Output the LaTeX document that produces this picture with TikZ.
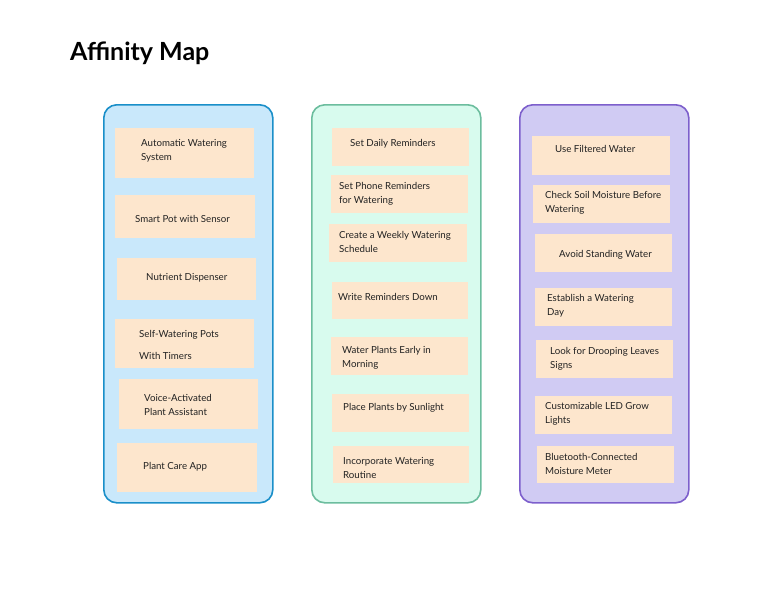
\documentclass[tikz,border=0pt]{standalone}
\usepackage{fontspec}
\setmainfont{Lato}
\definecolor{sticky}{HTML}{FDE6CD}
\definecolor{txt}{HTML}{222222}
\definecolor{bluefill}{HTML}{C9E8FB}
\definecolor{blueline}{HTML}{1A8FC9}
\definecolor{greenfill}{HTML}{D8FBEE}
\definecolor{greenline}{HTML}{6CBD9E}
\definecolor{purplefill}{HTML}{D0CBF3}
\definecolor{purpleline}{HTML}{7D5FCC}
\begin{document}
\begin{tikzpicture}[x=1pt,y=-1pt,
  col/.style={line width=1.6pt, rounded corners=13pt, anchor=north west, inner sep=0pt, minimum width=169pt, minimum height=398pt},
  note/.style={fill=sticky, draw=none, anchor=north west, inner sep=0pt},
  lbl/.style={anchor=west, inner sep=0pt, align=left, font=\fontsize{9.7}{14}\selectfont, text=txt, yshift=-1pt}]
\useasboundingbox (0,0) rectangle (768,594);
\node[anchor=west, inner sep=0pt, font=\fontsize{25}{30}\selectfont\bfseries, text=black] (title) at (70,53) {Affinity Map};

\node[col, draw=blueline, fill=bluefill] (col1) at (103,104) {};
\node[col, draw=greenline, fill=greenfill] (col2) at (311,104) {};
\node[col, draw=purpleline, fill=purplefill] (col3) at (519,104) {};

% column 1
\node[note, minimum width=139pt, minimum height=50pt] (a1) at (115,128) {};
\node[lbl] (ta1) at (141,150) {Automatic Watering\\System};
\node[note, minimum width=140pt, minimum height=43pt] (a2) at (115,195) {};
\node[lbl] (ta2) at (135,218) {Smart Pot with Sensor};
\node[note, minimum width=139pt, minimum height=42pt] (a3) at (117,258) {};
\node[lbl] (ta3) at (146,277) {Nutrient Dispenser};
\node[note, minimum width=139pt, minimum height=49pt] (a4) at (115,319) {};
\node[lbl] (ta4) at (139,344) {Self-Watering Pots\\[8pt]With Timers};
\node[note, minimum width=139pt, minimum height=50pt] (a5) at (119,379) {};
\node[lbl] (ta5) at (144,404) {Voice-Activated\\Plant Assistant};
\node[note, minimum width=140pt, minimum height=49pt] (a6) at (117,443) {};
\node[lbl] (ta6) at (143,466) {Plant Care App};

% column 2
\node[note, minimum width=137pt, minimum height=38pt] (b1) at (332,128) {};
\node[lbl] (tb1) at (350,143) {Set Daily Reminders};
\node[note, minimum width=137pt, minimum height=38pt] (b2) at (331,175) {};
\node[lbl] (tb2) at (339,193) {Set Phone Reminders\\for Watering};
\node[note, minimum width=138pt, minimum height=38pt] (b3) at (329,224) {};
\node[lbl] (tb3) at (339,241) {Create a Weekly Watering\\Schedule};
\node[note, minimum width=136pt, minimum height=37pt] (b4) at (332,282) {};
\node[lbl] (tb4) at (338,296) {Write Reminders Down};
\node[note, minimum width=137pt, minimum height=38pt] (b5) at (331,337) {};
\node[lbl] (tb5) at (342,357) {Water Plants Early in\\Morning};
\node[note, minimum width=137pt, minimum height=38pt] (b6) at (332,394) {};
\node[lbl] (tb6) at (343,407) {Place Plants by Sunlight};
\node[note, minimum width=136pt, minimum height=37pt] (b7) at (333,446) {};
\node[lbl] (tb7) at (343,467) {Incorporate Watering\\Routine};

% column 3
\node[note, minimum width=138pt, minimum height=39pt] (c1) at (532,136) {};
\node[lbl] (tc1) at (555,148) {Use Filtered Water};
\node[note, minimum width=137pt, minimum height=38pt] (c2) at (533,185) {};
\node[lbl] (tc2) at (545,202) {Check Soil Moisture Before\\Watering};
\node[note, minimum width=137pt, minimum height=38pt] (c3) at (535,234) {};
\node[lbl] (tc3) at (559,254) {Avoid Standing Water};
\node[note, minimum width=137pt, minimum height=38pt] (c4) at (535,288) {};
\node[lbl] (tc4) at (547,305) {Establish a Watering\\Day};
\node[note, minimum width=137pt, minimum height=38pt] (c5) at (536,340) {};
\node[lbl] (tc5) at (550,358) {Look for Drooping Leaves\\Signs};
\node[note, minimum width=137pt, minimum height=38pt] (c6) at (535,396) {};
\node[lbl] (tc6) at (545,413) {Customizable LED Grow\\Lights};
\node[note, minimum width=137pt, minimum height=37pt] (c7) at (537,446) {};
\node[lbl] (tc7) at (545,463) {Bluetooth-Connected\\Moisture Meter};
\end{tikzpicture}
\end{document}
